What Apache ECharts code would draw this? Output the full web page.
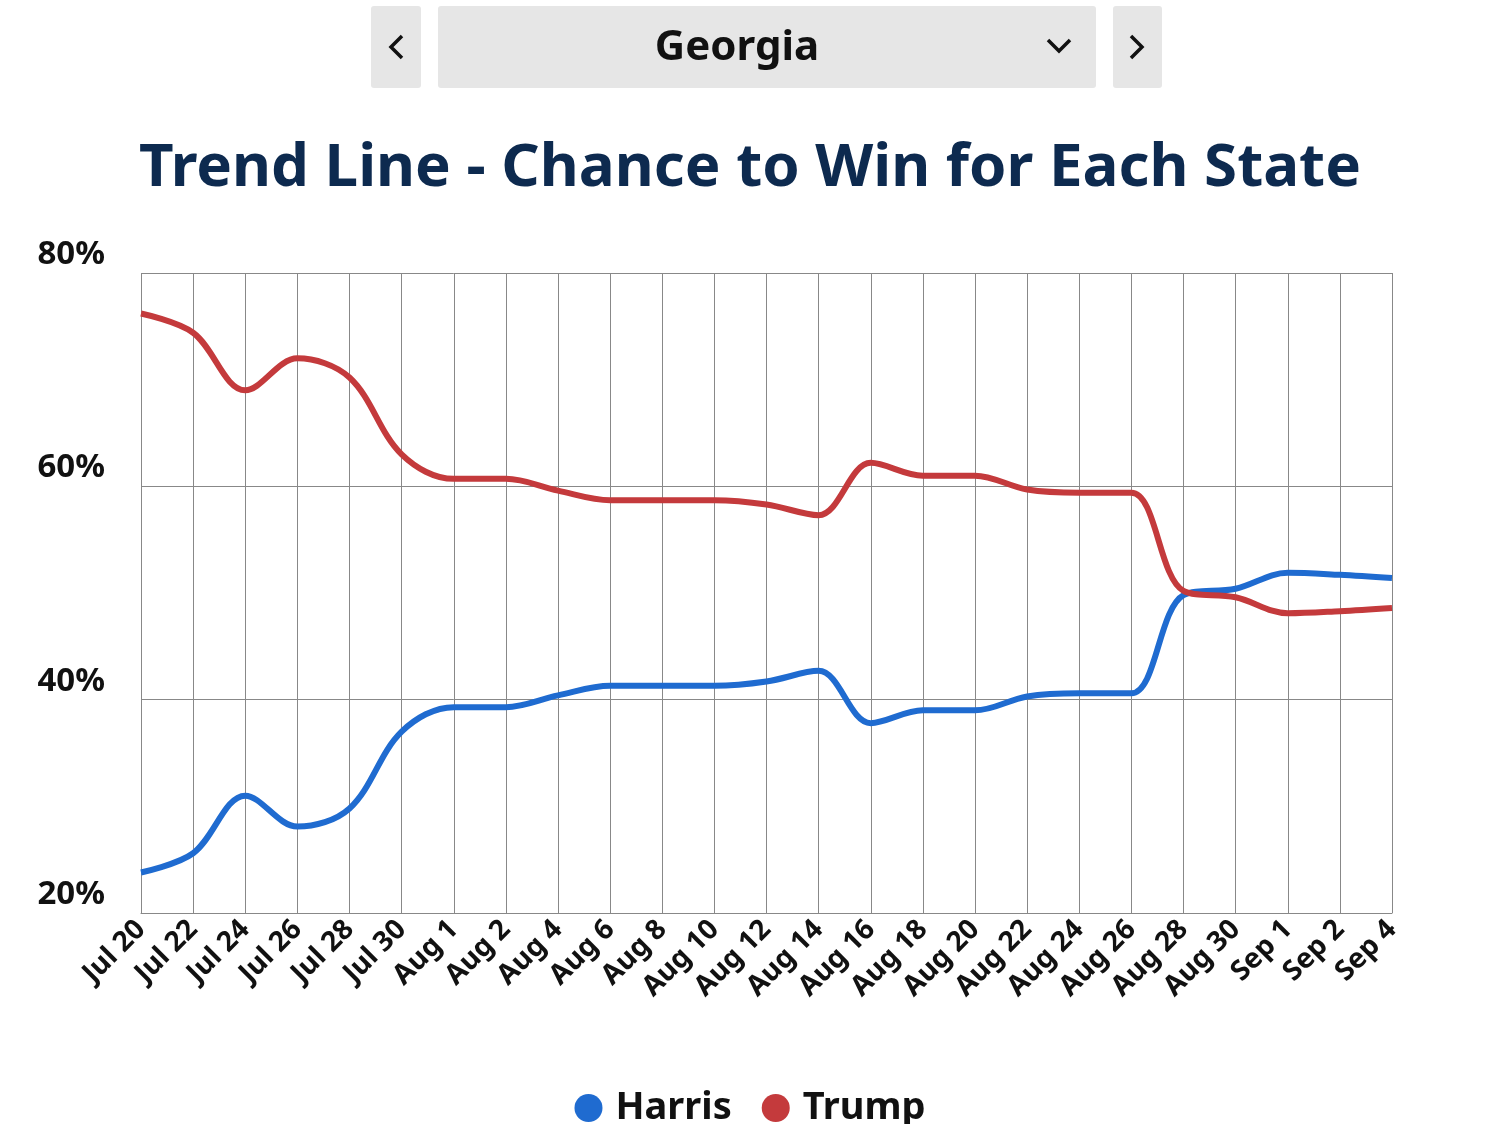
<!DOCTYPE html>
<html><head><meta charset="utf-8">
<script src="https://cdn.jsdelivr.net/npm/echarts@6/dist/echarts.min.js"></script>
<style>html,body{margin:0;background:#fff}#c{width:1500px;height:1124px}</style>
</head><body><div id="c"></div>
<script>
const categories=['Jul 20','Jul 22','Jul 24','Jul 26','Jul 28','Jul 30','Aug 1','Aug 2','Aug 4','Aug 6','Aug 8','Aug 10','Aug 12','Aug 14','Aug 16','Aug 18','Aug 20','Aug 22','Aug 24','Aug 26','Aug 28','Aug 30','Sep 1','Sep 2','Sep 4'];
const harris=[23.8,25.6,31,28.1,29.8,37,39.3,39.3,40.4,41.3,41.3,41.3,41.7,42.7,37.8,39,39,40.3,40.6,40.6,49.8,50.4,51.9,51.7,51.4];
const trump=[76.2,74.4,69,72,70.2,63,60.7,60.7,59.6,58.7,58.7,58.7,58.3,57.3,62.2,61,61,59.7,59.4,59.4,50.2,49.6,48.1,48.3,48.6];
const yTicks=[20,40,60,80];
const F='"Noto Sans", sans-serif';
const chart=echarts.init(document.getElementById('c'));
chart.setOption({
  animation:false,
  graphic:[
    {type:'rect',shape:{x:371,y:6,width:50,height:82,r:3},style:{fill:'#e6e6e6'}},
    {type:'rect',shape:{x:438,y:6,width:658,height:82,r:3},style:{fill:'#e6e6e6'}},
    {type:'rect',shape:{x:1113,y:6,width:49,height:82,r:3},style:{fill:'#e6e6e6'}},
    {type:'polyline',shape:{points:[[402,36],[391,47],[402,58]]},style:{stroke:'#111',lineWidth:3.5,fill:null}},
    {type:'polyline',shape:{points:[[1131,36],[1142,47],[1131,58]]},style:{stroke:'#111',lineWidth:3.5,fill:null}},
    {type:'polyline',shape:{points:[[1048,40],[1059,51],[1070,40]]},style:{stroke:'#111',lineWidth:3.5,fill:null}},
    {type:'text',x:737,y:48,style:{text:'Georgia',font:'bold 42px "Noto Sans"',fill:'#111',align:'center',verticalAlign:'middle'}}
  ],
  title:{text:'Trend Line - Chance to Win for Each State',left:'center',top:134,textStyle:{fontFamily:F,fontWeight:'bold',fontSize:60,color:'#0d2a4f'}},
  legend:{top:1084,itemWidth:28,itemHeight:28,itemGap:30,icon:'circle',textStyle:{fontFamily:F,fontWeight:'bold',fontSize:38,color:'#111',padding:[0,0,0,8]},data:['Harris','Trump']},
  grid:{left:141,right:108,top:273,bottom:211},
  xAxis:{type:'category',data:categories,boundaryGap:false,
    axisLine:{lineStyle:{color:'#888'}},axisTick:{show:false},
    splitLine:{show:true,lineStyle:{color:'#888',width:1}},
    axisLabel:{rotate:45,interval:0,fontFamily:F,fontWeight:'bold',fontSize:28,color:'#111',margin:12}},
  yAxis:{type:'value',min:20,max:80,interval:20,
    axisLine:{show:false},axisTick:{show:false},
    splitLine:{lineStyle:{color:'#888',width:1}},
    axisLabel:{formatter:v=>yTicks.includes(v)?v+'%':'',fontFamily:F,fontWeight:'bold',fontSize:33,color:'#111',margin:36,verticalAlign:'bottom',padding:[0,0,2,0]}},
  series:[
    {name:'Harris',type:'line',data:harris,smooth:0.35,symbol:'none',lineStyle:{width:6,color:'#1f6bd0'},itemStyle:{color:'#1f6bd0'}},
    {name:'Trump',type:'line',data:trump,smooth:0.35,symbol:'none',lineStyle:{width:6,color:'#c43a3c'},itemStyle:{color:'#c43a3c'}}
  ]
});
</script></body></html>
